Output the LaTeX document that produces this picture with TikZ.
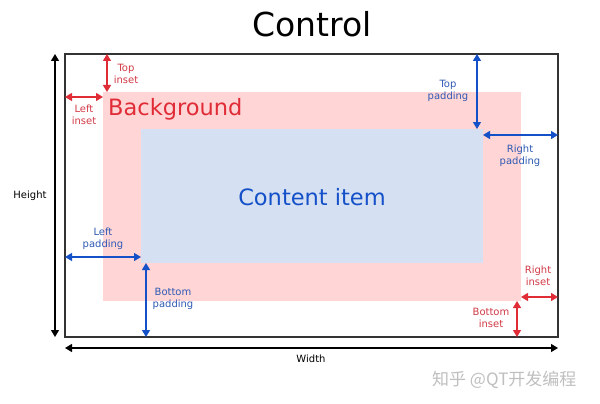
\documentclass[tikz,border=0pt]{standalone}
\usepackage{fontspec}
\setmainfont{DejaVu Sans}
\newfontfamily\cjk{Noto Sans CJK SC}
\usetikzlibrary{arrows.meta}
\definecolor{ctlred}{HTML}{E02C36}
\definecolor{lblred}{HTML}{D23A46}
\definecolor{ctlblue}{HTML}{1450C8}
\definecolor{lblblue}{HTML}{2E5AB4}
\definecolor{bgpink}{HTML}{FFD5D5}
\definecolor{ctfill}{HTML}{D5E0F3}
\definecolor{edge}{HTML}{333333}
\begin{document}
\begin{tikzpicture}[x=1pt,y=-1pt,
  box/.style={anchor=north west, inner sep=0pt, outer sep=0pt},
  dim/.style={{Triangle[length=7pt,width=8pt]}-{Triangle[length=7pt,width=8pt]}, line width=1.3pt},
  redarrow/.style={dim, draw=ctlred},
  bluearrow/.style={dim, draw=ctlblue},
  blackarrow/.style={dim, draw=black},
  small/.style={font=\fontsize{10}{12}\selectfont, align=center, inner sep=0pt},
  redlbl/.style={small, text=lblred},
  bluelbl/.style={small, text=lblblue},
  big/.style={font=\fontsize{22.5}{26}\selectfont, inner sep=0pt}
]
\useasboundingbox (0,0) rectangle (600,404);
\fill[white] (0,0) rectangle (600,404);

\node[box, draw=edge, line width=1.5pt, minimum width=493pt, minimum height=283pt] (ctl) at (65,54) {};
\node[box, fill=bgpink, minimum width=418pt, minimum height=209pt] (bg) at (103,92) {};
\node[box, fill=ctfill, minimum width=342pt, minimum height=134pt] (ct) at (141,129) {};

\node[font=\fontsize{33}{38}\selectfont, inner sep=0pt, anchor=base] (title) at (312,37) {Control};
\node[big, text=ctlred, anchor=base west] (bgtxt) at (108,115) {Background};
\node[big, text=ctlblue, anchor=base] (cttxt) at (312,205) {Content item};

% black dimension arrows
\coordinate (hT) at (55,54);
\coordinate (hB) at (55,337);
\coordinate (wL) at (65,348);
\coordinate (wR) at (558,348);
\draw[blackarrow] (hT) -- (hB);
\draw[blackarrow] (wL) -- (wR);
\node[small] (hlbl) at (30,196) {Height};
\node[small] (wlbl) at (311,359) {Width};

% insets (red)
\coordinate (tiT) at (107,54);
\coordinate (tiB) at (107,92);
\coordinate (liL) at (65,97);
\coordinate (liR) at (103,97);
\coordinate (riL) at (521,297);
\coordinate (riR) at (558,297);
\coordinate (biT) at (517,301);
\coordinate (biB) at (517,337);
\draw[redarrow] (tiT) -- (tiB);
\draw[redarrow] (liL) -- (liR);
\draw[redarrow] (riL) -- (riR);
\draw[redarrow] (biT) -- (biB);
\node[redlbl] (til) at (126,74) {Top\\inset};
\node[redlbl] (lil) at (84,115) {Left\\inset};
\node[redlbl] (ril) at (538,276) {Right\\inset};
\node[redlbl] (bil) at (491,318) {Bottom\\inset};

% paddings (blue)
\coordinate (tpT) at (477,54);
\coordinate (tpB) at (477,129);
\coordinate (rpL) at (483,135);
\coordinate (rpR) at (558,135);
\coordinate (lpL) at (65,257);
\coordinate (lpR) at (141,257);
\coordinate (bpT) at (146,263);
\coordinate (bpB) at (146,337);
\draw[bluearrow] (tpT) -- (tpB);
\draw[bluearrow] (rpL) -- (rpR);
\draw[bluearrow] (lpL) -- (lpR);
\draw[bluearrow] (bpT) -- (bpB);
\node[bluelbl] (tpl) at (448,91) {Top\\padding};
\node[bluelbl] (rpl) at (520,156) {Right\\padding};
\node[bluelbl] (lpl) at (103,239) {Left\\padding};
\node[bluelbl] (bpl) at (173,299) {Bottom\\padding};

% watermark
\node[font=\cjk\fontsize{17}{20}\selectfont, text=black!25, anchor=base west, inner sep=0pt] (wm) at (432,385) {知乎 @QT开发编程};
\end{tikzpicture}
\end{document}
